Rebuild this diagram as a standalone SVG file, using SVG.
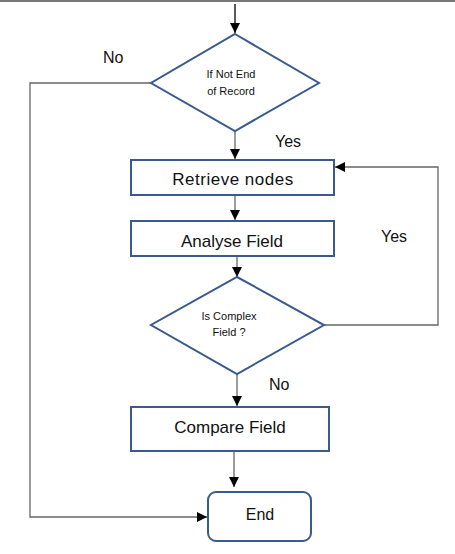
<svg xmlns="http://www.w3.org/2000/svg" width="455" height="554" viewBox="0 0 455 554">
<style>
.shape{fill:#fff;stroke:#3a5a8f;stroke-width:2}
.conn{fill:none;stroke:#666;stroke-width:1.3}
.t{font-family:"Liberation Sans",Arial,sans-serif;fill:#111;text-anchor:middle}
.lbl{font-family:"Liberation Sans",Arial,sans-serif;fill:#111;font-size:16px}
.small{font-size:11px}
.big{font-size:17px}
</style>
<defs>
<marker id="ah" viewBox="0 0 10 10" refX="10" refY="5" markerWidth="10" markerHeight="10" markerUnits="userSpaceOnUse" orient="auto">
<path d="M0,0 L10,5 L0,10 z" fill="#000"/>
</marker>
</defs>
<rect x="0" y="0" width="455" height="2" fill="#777"/>
<g id="connectors">
<line x1="235" y1="4" x2="235" y2="33" class="conn" style="stroke:#000" marker-end="url(#ah)"/>
<line x1="235" y1="131" x2="235" y2="159" class="conn" marker-end="url(#ah)"/>
<line x1="235" y1="195" x2="235" y2="220" class="conn" marker-end="url(#ah)"/>
<line x1="237" y1="256" x2="237" y2="277" class="conn" marker-end="url(#ah)"/>
<line x1="237" y1="374" x2="237" y2="406" class="conn" marker-end="url(#ah)"/>
<line x1="234" y1="451" x2="234" y2="487" class="conn" marker-end="url(#ah)"/>
<polyline points="151,83 30,83 30,517 207,517" class="conn" marker-end="url(#ah)"/>
<polyline points="324,325 438,325 438,167 335,167" class="conn" marker-end="url(#ah)"/>
</g>
<g id="decision1">
<polygon points="235,34 319,83 235,131 151,83" class="shape"/>
<text x="231" y="78" class="t small">If Not End</text>
<text x="231" y="95" class="t small">of Record</text>
</g>
<g id="retrieve">
<rect x="131" y="160" width="203" height="35" class="shape"/>
<text x="233" y="185" class="t big" letter-spacing="0.5">Retrieve nodes</text>
</g>
<g id="analyse">
<rect x="131" y="221" width="203" height="35" class="shape"/>
<text x="232" y="247" class="t big">Analyse Field</text>
</g>
<g id="decision2">
<polygon points="237,277 324,325 237,374 151,325" class="shape"/>
<text x="229" y="320" class="t small">Is Complex</text>
<text x="229" y="336" class="t small">Field ?</text>
</g>
<g id="compare">
<rect x="131" y="407" width="198" height="44" class="shape"/>
<text x="230" y="433" class="t big">Compare Field</text>
</g>
<g id="end">
<rect x="208" y="492" width="103" height="49" rx="8" class="shape"/>
<text x="260" y="520" class="t" font-size="16">End</text>
</g>
<g id="labels">
<text x="103" y="63" class="lbl">No</text>
<text x="275" y="147" class="lbl">Yes</text>
<text x="381" y="242" class="lbl">Yes</text>
<text x="269" y="390" class="lbl">No</text>
</g>
</svg>
